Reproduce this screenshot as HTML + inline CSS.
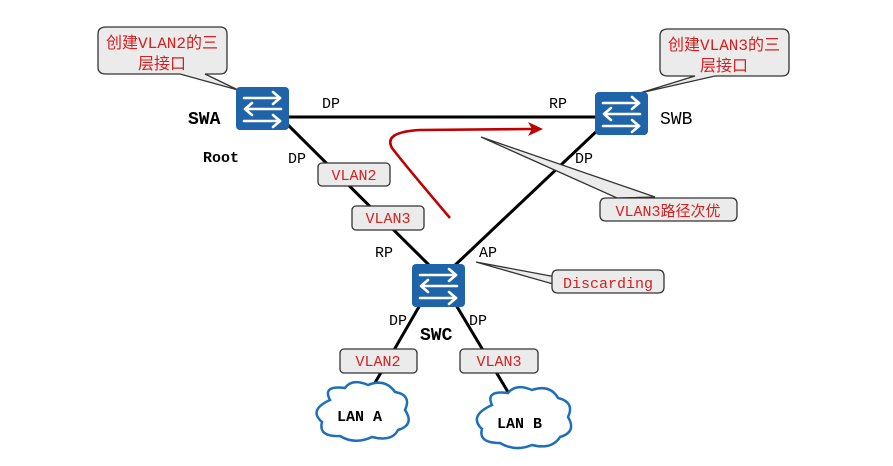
<!DOCTYPE html>
<html><head><meta charset="utf-8"><style>
html,body{margin:0;padding:0;background:#fff;}
svg{display:block;}
text{font-family:"Liberation Mono","Noto Sans CJK SC",monospace;}
</style></head><body>
<svg width="893" height="466" viewBox="0 0 893 466" xmlns="http://www.w3.org/2000/svg">
<defs>
<g id="sw">
<rect x="0" y="0" width="53" height="43" rx="4" fill="#1f63a8"/>
<g stroke="#fff" stroke-width="2.6" fill="none" stroke-linecap="round" stroke-linejoin="round">
<line x1="8" y1="11" x2="44" y2="11"/><polyline points="37,5 44,11 37,17"/>
<line x1="10" y1="22" x2="45" y2="22"/><polyline points="16,16 9,22 16,28"/>
<line x1="8" y1="34" x2="44" y2="34"/><polyline points="37,28 44,34 37,40"/>
</g>
</g>
</defs>
<g stroke="#000" stroke-width="3" fill="none">
<line x1="289" y1="117" x2="596" y2="117"/>
<line x1="285" y1="122" x2="432" y2="268"/>
<line x1="600" y1="128" x2="452" y2="268"/>
<line x1="420" y1="305" x2="372" y2="388"/>
<line x1="456" y1="305" x2="508" y2="392"/>
</g>
<g fill="#ebebeb" stroke="#333" stroke-width="1.3">
<path d="M106,27 H220 Q227,27 227,34 V67 Q227,74 220,74 H205 L238,90 L180,74 H106 Q98,74 98,67 V34 Q98,27 106,27 Z"/>
<path d="M668,29 H782 Q789,29 789,36 V69 Q789,76 782,76 H715 L640,93 L695,76 H668 Q660,76 660,69 V36 Q660,29 668,29 Z"/>
<polygon points="481,137 655,197 617,198"/>
<path d="M606,198 H731 Q737,198 737,204 V215 Q737,221 731,221 H606 Q600,221 600,215 V204 Q600,198 606,198 Z"/>
<polygon points="476,262 556,277 553,284"/>
<path d="M558,270 H658 Q664,270 664,276 V287 Q664,293 658,293 H558 Q552,293 552,287 V276 Q552,270 558,270 Z"/>
<rect x="318" y="163" width="72" height="23" rx="4"/>
<rect x="352" y="206" width="72" height="24" rx="4"/>
<rect x="340" y="349" width="77" height="24" rx="4"/>
<rect x="460" y="349" width="78" height="24" rx="4"/>
</g>
<g fill="#fff" stroke="#1e6fb8" stroke-width="2.5">
<path d="M330,400 Q322,385 345,388 Q352,378 368,385 Q385,378 395,392 Q412,395 405,410 Q415,425 398,430 Q392,442 372,437 Q355,445 340,436 Q318,437 322,422 Q308,410 330,400 Z"/>
<path d="M492,405 Q485,390 508,393 Q516,383 532,390 Q550,384 558,398 Q575,402 568,417 Q577,432 560,437 Q552,450 532,445 Q515,452 500,443 Q478,443 482,429 Q468,416 492,405 Z"/>
</g>
<use href="#sw" x="236" y="87"/>
<use href="#sw" x="595" y="92"/>
<use href="#sw" x="412" y="264"/>
<path d="M450,218 Q405,165 392,148 Q383,132 420,130 L532,129" stroke="#c00000" stroke-width="2.6" fill="none"/>
<polygon points="543,129 528,122 532,129 528,136" fill="#c00000"/>
<g font-size="15" fill="#000" font-family="Liberation Serif, serif">
<text x="188" y="124" font-weight="bold" font-size="18">SWA</text>
<text x="203" y="162" font-weight="bold" font-size="15">Root</text>
<text x="322" y="108">DP</text>
<text x="549" y="108">RP</text>
<text x="660" y="124" font-size="18">SWB</text>
<text x="288" y="163">DP</text>
<text x="575" y="163">DP</text>
<text x="375" y="257">RP</text>
<text x="479" y="257">AP</text>
<text x="389" y="325">DP</text>
<text x="469" y="325">DP</text>
<text x="420" y="340" font-weight="bold" font-size="18">SWC</text>
<text x="337" y="421" font-weight="bold" font-size="15">LAN A</text>
<text x="497" y="428" font-weight="bold" font-size="15">LAN B</text>
</g>
<g font-size="15" fill="#d42020" text-anchor="middle">
<text x="162" y="48" font-size="16">创建VLAN2的三</text>
<text x="162" y="69" font-size="16">层接口</text>
<text x="724" y="50" font-size="16">创建VLAN3的三</text>
<text x="724" y="71" font-size="16">层接口</text>
<text x="668" y="216">VLAN3路径次优</text>
<text x="608" y="288">Discarding</text>
<text x="354" y="180">VLAN2</text>
<text x="388" y="223">VLAN3</text>
<text x="378" y="366">VLAN2</text>
<text x="499" y="366">VLAN3</text>
</g>
</svg>
</body></html>
